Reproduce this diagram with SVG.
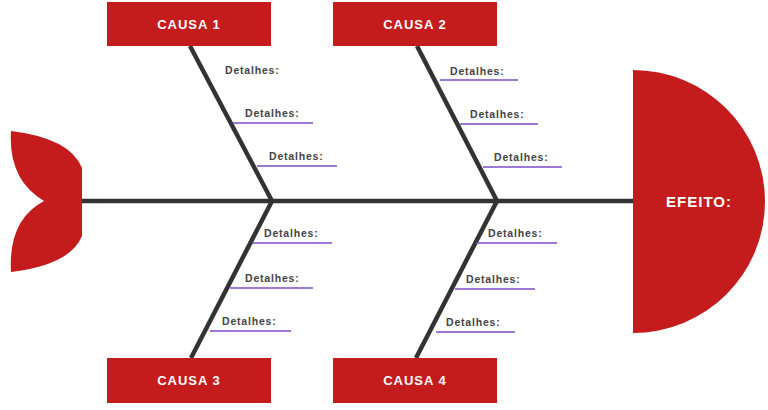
<svg xmlns="http://www.w3.org/2000/svg" width="768" height="410" viewBox="0 0 768 410">
<style>
.red{fill:#c41c1c}
.bone{stroke:#333;stroke-width:4.5;fill:none}
.ul{stroke:#7e4cc4;stroke-width:1.5}
.d{font-family:"Liberation Sans",Arial,sans-serif;font-weight:bold;font-size:10.5px;fill:#444;letter-spacing:0.8px}
.c{font-family:"Liberation Sans",Arial,sans-serif;font-weight:bold;font-size:13px;fill:#fff;letter-spacing:1px;text-anchor:middle}
</style>
<rect width="768" height="410" fill="#fff"/>
<g id="connectors">
<line class="bone" x1="82" y1="201" x2="636" y2="201"/>
<line class="bone" x1="190" y1="46" x2="272" y2="201"/>
<line class="bone" x1="272" y1="201" x2="191" y2="358"/>
<line class="bone" x1="417" y1="46" x2="497" y2="201"/>
<line class="bone" x1="497" y1="201" x2="416" y2="358"/>
<line class="ul" x1="233" y1="123" x2="313" y2="123"/>
<line class="ul" x1="257" y1="166" x2="337" y2="166"/>
<line class="ul" x1="440" y1="80" x2="518" y2="80"/>
<line class="ul" x1="460" y1="124" x2="538" y2="124"/>
<line class="ul" x1="483" y1="167" x2="562" y2="167"/>
<line class="ul" x1="252" y1="243" x2="332" y2="243"/>
<line class="ul" x1="230" y1="288" x2="313" y2="288"/>
<line class="ul" x1="210" y1="331" x2="291" y2="331"/>
<line class="ul" x1="476" y1="243" x2="557" y2="243"/>
<line class="ul" x1="455" y1="289" x2="535" y2="289"/>
<line class="ul" x1="436" y1="332" x2="515" y2="332"/>
</g>
<g id="tail"><path class="red" d="M11,131 Q70,138 82,168 L82,236 Q70,265 11,272 Q8,220 44,201 Q8,180 11,131 Z"/></g>
<g id="efeito"><path class="red" d="M633,70 A132,131.5 0 0 1 633,333 Z"/><text class="c" x="699" y="207" style="font-size:15px">EFEITO:</text></g>
<g id="causa1"><rect class="red" x="107" y="2" width="164" height="44"/><text class="c" x="189" y="29">CAUSA 1</text></g>
<g id="causa2"><rect class="red" x="333" y="2" width="164" height="44"/><text class="c" x="415" y="29">CAUSA 2</text></g>
<g id="causa3"><rect class="red" x="107" y="358" width="164" height="45"/><text class="c" x="189" y="385">CAUSA 3</text></g>
<g id="causa4"><rect class="red" x="333" y="358" width="164" height="45"/><text class="c" x="415" y="385">CAUSA 4</text></g>
<g id="details">
<text class="d" x="225" y="74">Detalhes:</text>
<text class="d" x="245" y="117">Detalhes:</text>
<text class="d" x="269" y="160">Detalhes:</text>
<text class="d" x="450" y="75">Detalhes:</text>
<text class="d" x="470" y="118">Detalhes:</text>
<text class="d" x="494" y="161">Detalhes:</text>
<text class="d" x="264" y="237">Detalhes:</text>
<text class="d" x="245" y="282">Detalhes:</text>
<text class="d" x="222" y="325">Detalhes:</text>
<text class="d" x="488" y="237">Detalhes:</text>
<text class="d" x="466" y="283">Detalhes:</text>
<text class="d" x="446" y="326">Detalhes:</text>
</g>
</svg>
